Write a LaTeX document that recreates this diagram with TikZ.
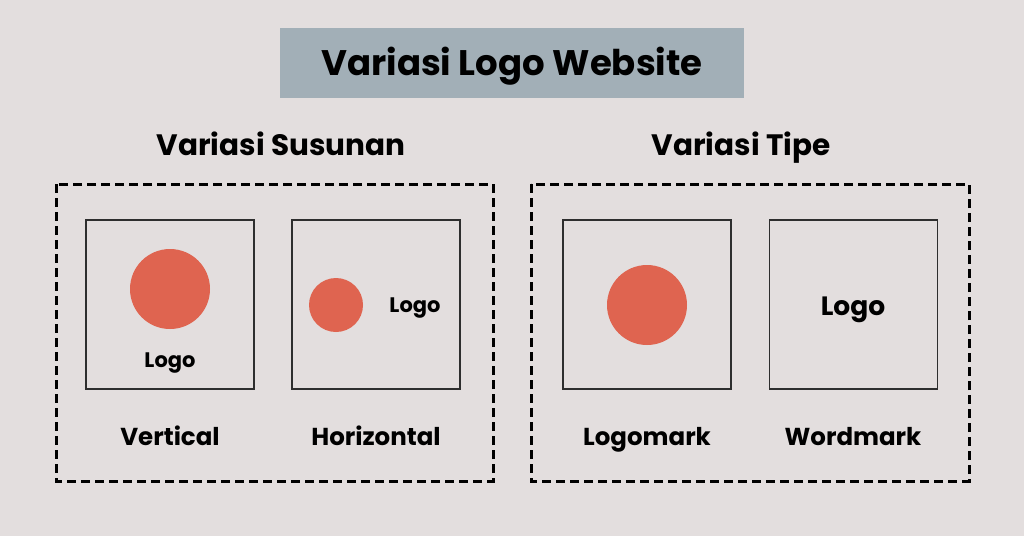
\documentclass[tikz,border=0pt]{standalone}
\usepackage{fontspec}
\setmainfont{Poppins}
\usepackage{xcolor}
\definecolor{bgcol}{HTML}{E3DEDE}
\definecolor{titlecol}{HTML}{A2AFB7}
\definecolor{dotcol}{HTML}{DF6450}
\definecolor{framecol}{HTML}{2E2E2E}
\tikzset{
	groupbox/.style={draw=black,line width=3pt,dash pattern=on 9pt off 5pt},
	logobox/.style={draw=framecol,line width=1.4pt,minimum width=168pt,minimum height=169pt,inner sep=0pt},
	logodot/.style={circle,fill=dotcol,inner sep=0pt},
	heading/.style={anchor=base,font=\bfseries\fontsize{29.5}{32}\selectfont},
	caption/.style={anchor=base,font=\bfseries\fontsize{24.5}{28}\selectfont},
	logotext/.style={anchor=base,font=\bfseries\fontsize{21}{24}\selectfont}
}
\begin{document}
\begin{tikzpicture}[x=1pt,y=-1pt]
			\fill[bgcol] (0,0) rectangle (1024,536);
			\useasboundingbox (0,0) rectangle (1024,536);
			% title
			\fill[titlecol] (280,28) rectangle (744,98);
			\node[anchor=base,font=\bfseries\fontsize{35.5}{40}\selectfont] (title) at (512,75) {Variasi Logo Website};
			\node[heading] (susunan) at (281,155) {Variasi Susunan};
			\node[heading] (tipe) at (741,155) {Variasi Tipe};
			\draw[groupbox] (56,184) rectangle (493,481);
			\draw[groupbox] (531,184) rectangle (969,481);
			% susunan
			\node[logobox] (vbox) at (170,304.5) {};
			\node[logodot,minimum size=80pt] (vdot) at (170,289) {};
			\node[logotext] (vlogo) at (170,367) {Logo};
			\node[logobox] (hbox) at (376,304.5) {};
			\node[logodot,minimum size=54pt] (hdot) at (336,305) {};
			\node[logotext] (hlogo) at (415,312) {Logo};
			\node[caption] (vcap) at (170,445) {Vertical};
			\node[caption] (hcap) at (376,445) {Horizontal};
			% tipe
			\node[logobox] (mbox) at (647,304.5) {};
			\node[logodot,minimum size=80pt] (mdot) at (647,305) {};
			\node[logobox] (wbox) at (853.5,304.5) {};
			\node[logotext,font=\bfseries\fontsize{26.5}{30}\selectfont] (wlogo) at (853,315) {Logo};
			\node[caption] (mcap) at (647,445) {Logomark};
			\node[caption] (wcap) at (853,445) {Wordmark};
		\end{tikzpicture}
\end{document}
